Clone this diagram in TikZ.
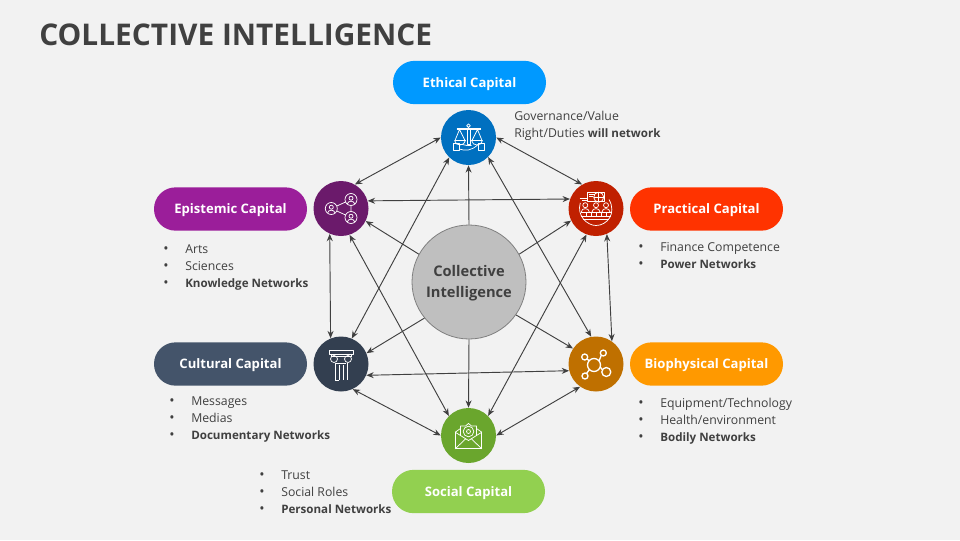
\documentclass[tikz,border=0pt]{standalone}
\usepackage{fontspec}
\setmainfont{Open Sans}
\usetikzlibrary{arrows.meta, positioning, calc}
\definecolor{pagebg}{RGB}{242, 242, 242}
\definecolor{inkgray}{RGB}{64, 64, 64}
\definecolor{coregray}{RGB}{191, 191, 191}
\newcommand{\strongtxt}[1]{{\fontsize{8.7pt}{11pt}\selectfont\bfseries #1}}

\tikzset{
  pill/.style={rounded corners=16.2pt, minimum width=114.75pt, minimum height=32.5pt, inner sep=0pt,
    text=white, text height=7.5pt, text depth=0.5pt, font=\fontsize{9.8pt}{12pt}\selectfont\bfseries},
  hub/.style={circle, minimum size=41.25pt, inner sep=0pt},
  link/.style={{Stealth[length=5.5pt,width=4.5pt]}-{Stealth[length=5.5pt,width=4.5pt]}, draw=inkgray, line width=0.7pt},
  flow/.style={-{Stealth[length=5.5pt,width=4.5pt]}, draw=inkgray, line width=0.7pt},
  item/.style={anchor=west, inner sep=0pt, text=inkgray, text height=6.6pt, text depth=0pt,
    font=\fontsize{9.2pt}{11pt}\selectfont},
  icon/.style={draw=white, line width=0.55pt, line join=round},
}

\begin{document}
\begin{tikzpicture}[x=0.75pt, y=-0.75pt]
  \fill[pagebg] (0,0) rectangle (960,540);

  \node[anchor=west, inner sep=0pt, text=inkgray, font=\fontsize{22.4pt}{30pt}\selectfont\bfseries] (title) at (39,35) {COLLECTIVE INTELLIGENCE};

  % Centre circle
  \node[circle, fill=coregray, draw=gray, line width=0.6pt, minimum size=85.5pt, inner sep=0pt] (core) at (469,282) {};
  \node[align=center, inner sep=0pt, text=inkgray, font=\fontsize{11pt}{15.8pt}\selectfont\bfseries] (coretext) at (469,283) {Collective\\Intelligence};

  % Pills and their circles
  \foreach \nm/\px/\py/\pcol/\hx/\hy/\hcol/\txt in {
    ethical/469.5/82.5/{0,153,255}/468.5/137.5/{0,112,192}/{Ethical Capital},
    epistemic/230.5/209/{155,30,154}/341/208.5/{107,26,107}/{Epistemic Capital},
    practical/706.5/209/{255,51,0}/596/208.5/{192,32,0}/{Practical Capital},
    cultural/230.5/364/{68,84,106}/341/364/{51,63,80}/{Cultural Capital},
    biophysical/706.5/364/{255,153,0}/596/364/{191,112,0}/{Biophysical Capital},
    social/468.5/491.5/{146,208,80}/468.5/435.5/{106,166,45}/{Social Capital}
  } {
    \definecolor{pillcol}{RGB}{\pcol}
    \definecolor{hubcol}{RGB}{\hcol}
    \node[pill, fill=pillcol] (\nm label) at (\px,\py) {\txt};
    \node[hub, fill=hubcol] (\nm) at (\hx,\hy) {};
  }

  % Links between the outer circles
  \foreach \a/\b in {
    ethical.180/epistemic.60, ethical.0/practical.120, ethical.226/cultural.67, ethical.-45/biophysical.100,
    epistemic.16/practical.160, epistemic.246/cultural.112, epistemic.-72/social.135,
    practical.293/biophysical.55, practical.250/social.45,
    cultural.-24/biophysical.194, cultural.-65/social.180, biophysical.235/social.0
  } {
    \draw[link] (\a) -- (\b);
  }

  % Arrows out of the centre
  \foreach \a/\b in {
    core.90/ethical.-90, core.151/epistemic.-27, core.29/practical.206,
    core.219/cultural.23, core.-35/biophysical.146, core.-90/social.90
  } {
    \draw[flow] (\a) -- (\b);
  }

  % Text beside the pills
  \node[item] (govtext) at (514,116) {Governance/Value};
  \node[item] (righttext) at (514,133) {Right/Duties \strongtxt{will network}};

  \foreach \x/\y/\nm/\txt in {
    185/249/artsitem/{Arts},
    185/266/sciitem/{Sciences},
    185/283/knowitem/{\strongtxt{Knowledge Networks}},
    660/247/finitem/{Finance Competence},
    660/264/powitem/{\strongtxt{Power Networks}},
    191/401/msgitem/{Messages},
    191/418/meditem/{Medias},
    191/435/docitem/{\strongtxt{Documentary Networks}},
    660/403/equipitem/{Equipment/Technology},
    660/420/healthitem/{Health/environment},
    660/437/bodyitem/{\strongtxt{Bodily Networks}},
    281/475/trustitem/{Trust},
    281/492/roleitem/{Social Roles},
    281/509/persitem/{\strongtxt{Personal Networks}}
  } {
    \node[item, xshift=-16.5pt, font=\fontsize{10.5pt}{11pt}\selectfont] (\nm dot) at (\x,\y) {•};
    \node[item] (\nm) at (\x,\y) {\txt};
  }

  % Scales
  \begin{scope}[shift={(ethical.center)}, icon]
    \draw (-12,-9.5) -- (12,-9.5) (-12,-8) -- (12,-8);
    \draw (-1.5,-8) rectangle (1.5,7);
    \draw (0,-11.8) circle [radius=1.8];
    \draw (-9,-8) -- (-13.5,3) (-9,-8) -- (-3.5,3) (9,-8) -- (3.5,3) (9,-8) -- (13.5,3);
    \draw (-14,3) -- (-3,3) .. controls (-4,9) and (-13,9) .. (-14,3);
    \draw (14,3) -- (3,3) .. controls (4,9) and (13,9) .. (14,3);
    \draw (-15.5,6) rectangle (-9.5,12.5) (9.5,6) rectangle (15.5,12.5);
    \draw (-9.5,7) .. controls (-5,6) and (-3,9) .. (3,8) (-9.5,11.5) .. controls (-3,13.5) and (3,13.5) .. (9.5,7);
  \end{scope}

  % Network of people
  \begin{scope}[shift={(epistemic.center)}, icon]
    \foreach \cx/\cy in {-9.7/0, 10/-9, 10/9} {
      \draw (\cx,\cy) circle [radius=6];
      \draw (\cx,\cy-1.3) circle [radius=2];
      \draw (\cx-3.7,\cy+4.4) .. controls (\cx-3,\cy+0.8) and (\cx+3,\cy+0.8) .. (\cx+3.7,\cy+4.4);
    }
    \draw (-4.2,-2.5) -- (4.6,-6.5) (-4.2,2.5) -- (4.6,6.5) (10,-3) -- (10,3);
  \end{scope}

  % Meeting table
  \begin{scope}[shift={(practical.center)}, icon]
    \draw (-15.7,-5.7) .. controls (-19.5,7) and (-9,17) .. (0,17) .. controls (11,17) and (21,5) .. (13,-9);
    \draw (-9,-16.3) rectangle (8.7,-7.3);
    \draw (-7,-14.5) -- (-1,-14.5) (-7,-12.5) -- (-3,-12.5);
    \draw (2.7,-11.3) circle [radius=5];
    \draw (2.7,-16.3) -- (2.7,-6.3) (-2.3,-11.3) -- (7.7,-11.3);
    \draw (-16.5,-10.5) -- (-9,-10.5) (-14,-8) -- (-9,-8);
    \foreach \cx in {-10.7,0,10} {
      \draw (\cx,-3.3) circle [radius=2.5];
      \draw (\cx-4,3.5) .. controls (\cx-4,-1) and (\cx+4,-1) .. (\cx+4,3.5);
    }
    \draw (-15,4.3) -- (15,4.3) (-15,7.7) -- (15,7.7) (-13,11) -- (13,11);
    \foreach \cx in {-10,-5,0,5,10} { \draw (\cx,4.3) -- (\cx,7.7); }
  \end{scope}

  % Pillar
  \begin{scope}[shift={(cultural.center)}, icon]
    \draw (-12,-13.5) rectangle (12,-9.5);
    \draw (-10,-9.5) -- (-10,-8.5) (10,-9.5) -- (10,-8.5);
    \draw (-10.5,-8) -- (10.5,-8) (-5,-1) -- (5,-1);
    \draw (-7,-5) circle [radius=3.5] (7,-5) circle [radius=3.5];
    \draw (-6,-1) -- (-6,16) (6,-1) -- (6,16);
    \draw (-2,1) -- (-2,16) (2,1) -- (2,16) (-6,16) -- (-2,16);
  \end{scope}

  % Molecule
  \begin{scope}[shift={(biophysical.center)}, icon, line width=1pt]
    \draw (-2,1) circle [radius=6.5];
    \draw (-11.3,-7) circle [radius=3] (7.3,-11) circle [radius=3] (10.3,8) circle [radius=4.5] (-11,12) circle [radius=3];
    \draw (-7,-3.5) -- (-9,-5) (3,-3) -- (5.3,-8.7) (4.3,3) -- (6,5.5) (-6.5,5.5) -- (-9.5,9.5);
  \end{scope}

  % Envelope
  \begin{scope}[shift={(social.center)}, icon]
    \draw (-13.3,-3.3) -- (-13.3,13.3) -- (13.3,13.3) -- (13.3,-3.3);
    \draw (-13.3,-3.3) -- (-8,-7) (13.3,-3.3) -- (8,-7);
    \draw (-13.3,-3.3) -- (0,5) -- (13.3,-3.3);
    \draw (-13.3,13.3) -- (-3,3.5) (13.3,13.3) -- (3,3.5);
    \draw (-8,0) -- (-8,-9.5) -- (-3,-9.5) -- (0,-12) -- (3,-9.5) -- (8,-9.5) -- (8,0);
    \draw (0,-4) circle [radius=5.3] (0,-4) circle [radius=2];
  \end{scope}
\end{tikzpicture}
\end{document}
